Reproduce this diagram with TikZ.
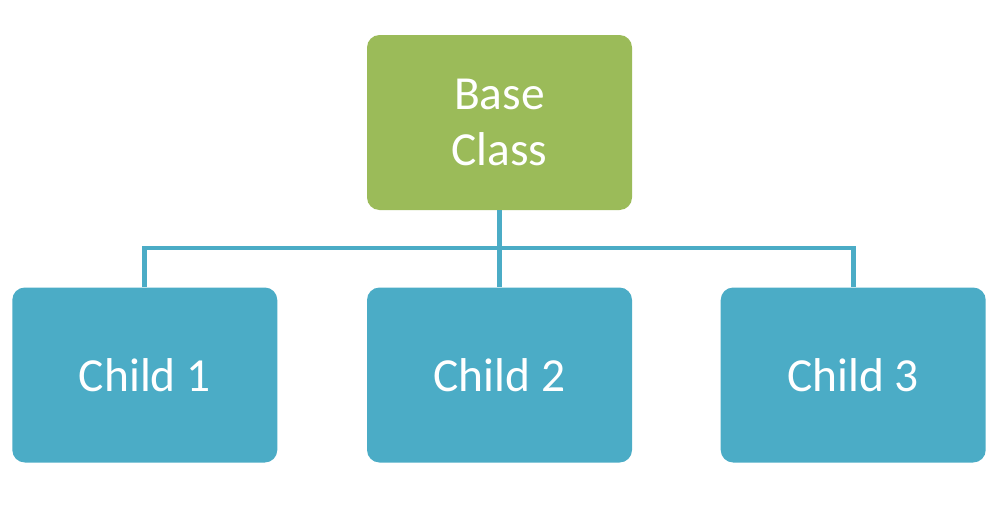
\documentclass[tikz,border=0pt]{standalone}
\usepackage{fontspec}
\setmainfont{Carlito}
\usetikzlibrary{positioning}
\definecolor{basegreen}{HTML}{9BBB59}
\definecolor{childblue}{HTML}{4BACC6}
\tikzstyle{classbox} = [minimum width=5.3cm, minimum height=3.5cm, rounded corners=0.25cm, text=white, align=center, font=\fontsize{27}{32}\selectfont]
\tikzset{
  link/.style ={draw=childblue, line width=2.8pt}
}

\begin{document}
\begin{tikzpicture}
  \useasboundingbox (0,0) rectangle (20.12,-10.16);
  \node[classbox,fill=basegreen] (base) at (9.99,-2.45) {Base\\Class};
  \node[classbox,fill=childblue] (child2) at (9.99,-7.5) {Child 2};
  \node[classbox,fill=childblue,left=1.78cm of child2] (child1) {Child 1};
  \node[classbox,fill=childblue,right=1.76cm of child2] (child3) {Child 3};
  \coordinate (split) at (9.99,-4.96);

  \begin{scope}[every path/.style=link]
    \path (base.south) -- (child2.north);
    \path (child1.north) |- (split) -| (child3.north);
  \end{scope}
\end{tikzpicture}
\end{document}
